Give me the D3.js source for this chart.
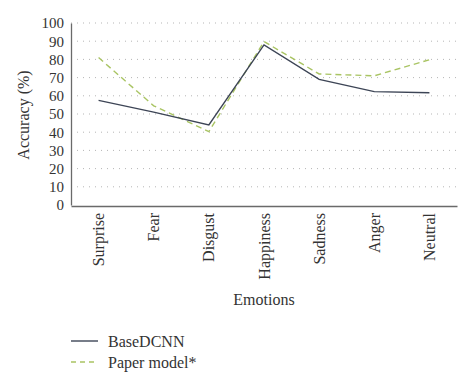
<!DOCTYPE html>
<html>
<head>
<meta charset="utf-8">
<script src="https://cdn.jsdelivr.net/npm/d3@7"></script>
<style>
  body { margin: 0; background: #fff; }
  text { font-family: "Liberation Serif", "DejaVu Serif", serif; fill: #333; }
</style>
</head>
<body>
<svg id="chart" width="474" height="387"></svg>
<script>
const emotions = ["Surprise", "Fear", "Disgust", "Happiness", "Sadness", "Anger", "Neutral"];
const baseDCNN = [57.5, 51, 44, 88, 69, 62.3, 61.7];
const paperModel = [81, 54.5, 40.3, 89.8, 72, 71, 79.8];
const yTicks = [0, 10, 20, 30, 40, 50, 60, 70, 80, 90, 100];

const svg = d3.select("#chart");
const plotLeft = 71, plotRight = 457, plotTop = 23, plotBottom = 205;

const x = d3.scaleBand().domain(emotions).range([plotLeft, plotRight]);
const y = d3.scaleLinear().domain([0, 100]).range([plotBottom, plotTop]);

// dotted grid
svg.append("g")
    .selectAll("line")
    .data(yTicks.filter(d => d > 0))
    .join("line")
    .attr("x1", plotLeft)
    .attr("x2", plotRight)
    .attr("y1", d => y(d))
    .attr("y2", d => y(d))
    .attr("stroke", "#b5b5b5")
    .attr("stroke-width", 1)
    .attr("stroke-dasharray", "1,5");

// y axis
const yAxis = svg.append("g")
    .attr("transform", `translate(${plotLeft},0)`)
    .call(d3.axisLeft(y).tickValues(yTicks).tickSize(0).tickPadding(7));
yAxis.select(".domain").attr("stroke", "#6a6a6a").attr("stroke-width", 1.3);
yAxis.selectAll("text").style("font-size", "15px").attr("fill", "#333")
    .style("font-family", "Liberation Serif, serif");

// x axis
const xAxis = svg.append("g")
    .attr("transform", `translate(0,${plotBottom + 1})`)
    .call(d3.axisBottom(x).tickSize(0).tickPadding(0));
xAxis.select(".domain").attr("stroke", "#6a6a6a").attr("stroke-width", 1.3);
xAxis.selectAll("text")
    .attr("transform", "rotate(-90)")
    .attr("text-anchor", "end")
    .attr("x", -7)
    .attr("y", 0)
    .attr("dy", "0.35em")
    .attr("fill", "#333")
    .style("font-size", "16px")
    .style("font-family", "Liberation Serif, serif");

// axis titles
svg.append("text")
    .attr("transform", `translate(29,${(plotTop + plotBottom) / 2 + 1}) rotate(-90)`)
    .attr("text-anchor", "middle")
    .style("font-size", "16px")
    .text("Accuracy (%)");

svg.append("text")
    .attr("x", 264)
    .attr("y", 305)
    .attr("text-anchor", "middle")
    .style("font-size", "16px")
    .text("Emotions");

// lines
const line = d3.line()
    .x((d, i) => x(emotions[i]) + x.bandwidth() / 2)
    .y(d => y(d));

svg.append("path")
    .datum(paperModel)
    .attr("fill", "none")
    .attr("stroke", "#a9c463")
    .attr("stroke-width", 1.4)
    .attr("stroke-dasharray", "6,4")
    .attr("d", line);

svg.append("path")
    .datum(baseDCNN)
    .attr("fill", "none")
    .attr("stroke", "#3d4556")
    .attr("stroke-width", 1.4)
    .attr("d", line);

// legend
const legend = [
    { name: "BaseDCNN", color: "#3d4556", dash: null },
    { name: "Paper model*", color: "#a9c463", dash: "5,4" }
];
const items = svg.append("g")
    .selectAll("g")
    .data(legend)
    .join("g")
    .attr("transform", (d, i) => `translate(71,${341 + i * 21})`);
items.append("line")
    .attr("x1", 0).attr("x2", 27)
    .attr("stroke", d => d.color)
    .attr("stroke-width", 1.4)
    .attr("stroke-dasharray", d => d.dash);
items.append("text")
    .attr("x", 37)
    .attr("dy", "0.35em")
    .style("font-size", "16px")
    .text(d => d.name);
</script>
</body>
</html>
